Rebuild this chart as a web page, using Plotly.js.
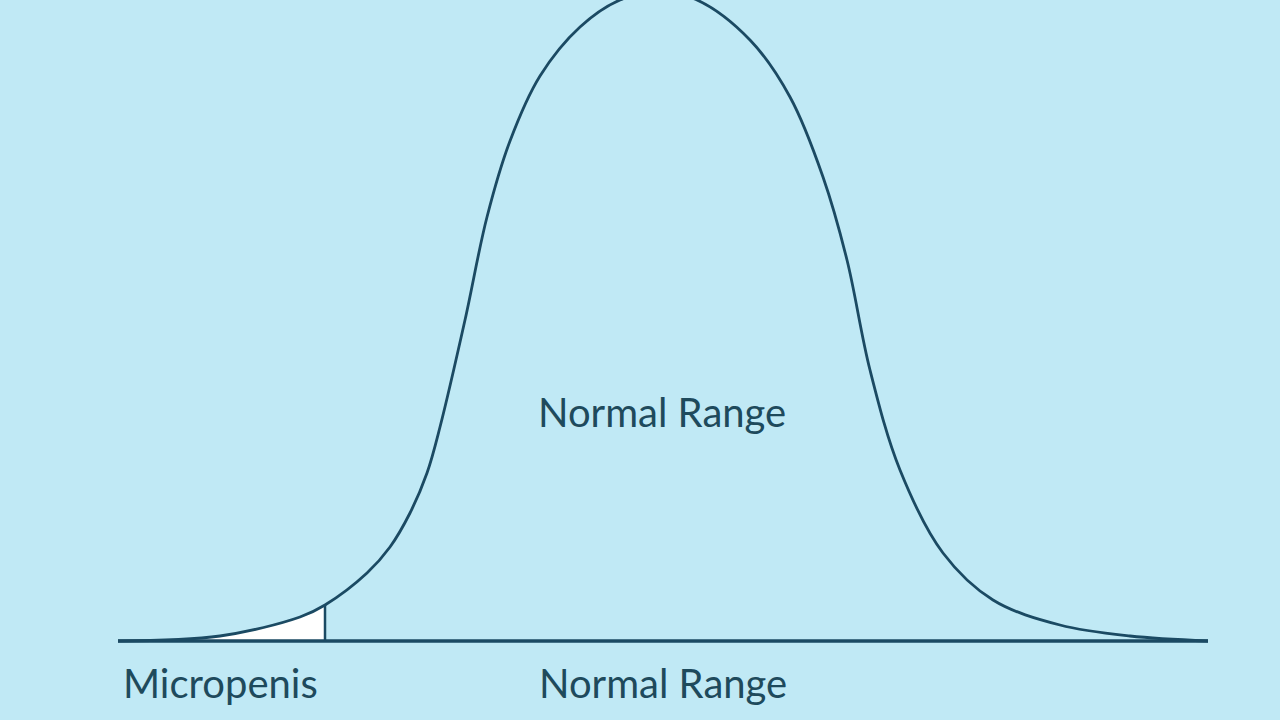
<!DOCTYPE html>
<html>
<head>
<meta charset="utf-8">
<script src="https://cdn.plot.ly/plotly-3.0.1.min.js"></script>
<style>
  html, body { margin: 0; padding: 0; background: #c0e9f5; }
  #chart { width: 1280px; height: 720px; }
</style>
</head>
<body>
<div id="chart"></div>
<script>
// Bell curve: x position, height above baseline
const curveX = [118, 220, 300, 325, 367, 390, 410, 427, 440, 465, 487, 510, 540, 580, 620, 658, 697, 750, 790, 823, 847, 870, 900, 943, 993, 1060, 1130, 1208];
const curveY = [0, 5, 24, 36, 68, 94, 128, 168, 214, 321, 424, 500, 565, 614, 641, 649, 641, 601, 544, 464, 381, 271, 171, 88, 41, 16, 5, 0];

// Shaded "Micropenis" tail
const tailX = [118, 220, 300, 325];
const tailY = [0, 5, 24, 36];
const cutoffX = 325;

// Baseline extent
const baseX = [118, 1208];
const baseY = [0, 0];

// Labels
const labelText = ["Normal Range", "Micropenis", "Normal Range"];
const labelX = [662, 220, 663];
const labelY = [229, -42, -42];

const ink = "#1b4a63";
const textInk = "#1e4a5c";

const traces = [
  {
    x: tailX, y: tailY, type: "scatter", mode: "lines",
    line: { color: "rgba(0,0,0,0)", width: 0, shape: "spline" },
    fill: "tozeroy", fillcolor: "#ffffff", hoverinfo: "skip"
  },
  {
    x: baseX, y: baseY, type: "scatter", mode: "lines",
    line: { color: ink, width: 3.5 }, hoverinfo: "skip"
  },
  {
    x: [cutoffX, cutoffX], y: [0, tailY[tailY.length - 1]], type: "scatter", mode: "lines",
    line: { color: ink, width: 2.5 }, hoverinfo: "skip"
  },
  {
    x: curveX, y: curveY, type: "scatter", mode: "lines",
    line: { color: ink, width: 2.8, shape: "spline", smoothing: 1 }, hoverinfo: "skip"
  }
];

const layout = {
  width: 1280, height: 720,
  margin: { l: 0, r: 0, t: 0, b: 0 },
  paper_bgcolor: "#c0e9f5",
  plot_bgcolor: "#c0e9f5",
  showlegend: false,
  xaxis: { range: [0, 1280], visible: false, fixedrange: true },
  yaxis: { range: [-79, 641], visible: false, fixedrange: true },
  annotations: labelText.map((t, i) => ({
    x: labelX[i], y: labelY[i], xref: "x", yref: "y",
    text: t, showarrow: false,
    font: { family: "Lato, 'Open Sans', sans-serif", size: 40, color: textInk },
    xanchor: "center", yanchor: "middle"
  }))
};

Plotly.newPlot("chart", traces, layout, { displayModeBar: false, staticPlot: true });
</script>
</body>
</html>
